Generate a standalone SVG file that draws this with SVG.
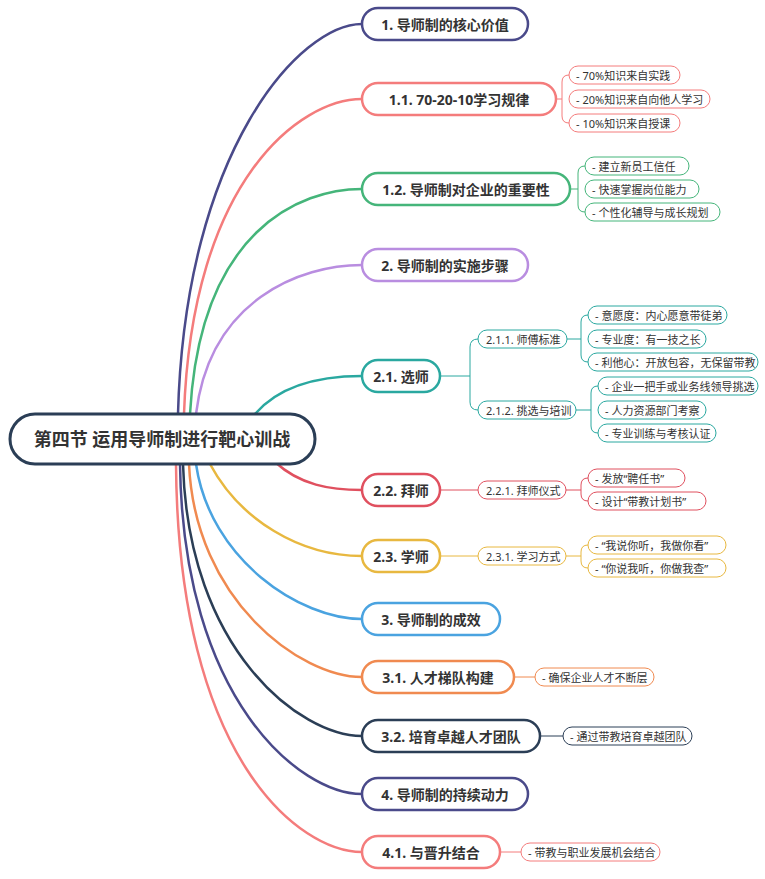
<svg xmlns="http://www.w3.org/2000/svg" width="765" height="879" viewBox="0 0 765 879">
<style>
text{font-family:"Noto Sans","Noto Sans CJK SC",sans-serif;fill:#333;dominant-baseline:central}
.m{font-size:14px;font-weight:bold}
.s{font-size:11px}
.l{font-size:11px}
rect{fill:#fff}
.mr{stroke-width:2.5}
.sr{stroke-width:1}
path{fill:none}
</style>
<rect x="0" y="0" width="765" height="879" fill="#fff"/>
<g id="connectors" stroke-width="2.5">
<path d="M178,414 C185,150 300,24 362,24" stroke="#4a4a8a"/>
<path d="M184,414 C192,180 300,99 362,99" stroke="#f47c7c"/>
<path d="M190,414 C200,230 300,189 362,189" stroke="#45b57a"/>
<path d="M196,414 C210,300 300,265 362,265" stroke="#b98de0"/>
<path d="M255,414 C280,385 320,376 362,376" stroke="#2aa8a0"/>
<path d="M275,462 C300,485 330,490 362,490" stroke="#e0505f"/>
<path d="M210,464 C240,520 300,556 362,556" stroke="#e8b840"/>
<path d="M196,464 C210,560 300,619 362,619" stroke="#4aa3e0"/>
<path d="M189,464 C195,600 300,677 362,677" stroke="#f08a50"/>
<path d="M183,464 C188,650 300,736 362,736" stroke="#2b3e56"/>
<path d="M180,464 C183,700 300,794 362,794" stroke="#4a4a8a"/>
<path d="M176,464 C178,760 300,852 362,852" stroke="#f47c7c"/>
<g stroke-width="1">
<path d="M556,99 H562 M569,75 Q562,75 562,82 V116 Q562,123 569,123" stroke="#f47c7c"/>
<path d="M570,189 H578 M585,166 Q578,166 578,173 V205 Q578,212 585,212" stroke="#45b57a"/>
<path d="M440,376 H470 M478,339 Q470,339 470,347 V402 Q470,410 478,410" stroke="#2aa8a0"/>
<path d="M567,339 H581 M588,315 Q581,315 581,322 V355 Q581,362 588,362" stroke="#2aa8a0"/>
<path d="M576,410 H591 M598,386 Q591,386 591,393 V426 Q591,433 598,433" stroke="#2aa8a0"/>
<path d="M440,490 H478 M566,490 H581 M588,478 Q581,478 581,485 V494 Q581,501 588,501" stroke="#e0505f"/>
<path d="M440,556 H478 M566,556 H581 M588,545 Q581,545 581,552 V561 Q581,568 588,568" stroke="#e8b840"/>
<path d="M514,677 H535" stroke="#f08a50"/>
<path d="M540,736 H563" stroke="#2b3e56"/>
<path d="M500,852 H521" stroke="#f47c7c"/>
</g>
</g>
<g id="root"><rect x="10" y="414" width="305" height="50" rx="25" stroke="#2b3e56" stroke-width="3"/><text x="162" y="439" text-anchor="middle" style="font-size:18px;font-weight:bold">第四节 运用导师制进行靶心训战</text></g>
<g id="n1"><rect class="mr" x="362" y="8" width="166" height="32" rx="16" stroke="#4a4a8a"/><text class="m" x="445" y="24" text-anchor="middle">1. 导师制的核心价值</text></g>
<g id="n11"><rect class="mr" x="362" y="83" width="194" height="32" rx="16" stroke="#f47c7c"/><text class="m" x="459" y="99" text-anchor="middle">1.1. 70-20-10学习规律</text></g>
<g id="n12"><rect class="mr" x="362" y="173" width="208" height="32" rx="16" stroke="#45b57a"/><text class="m" x="466" y="189" text-anchor="middle">1.2. 导师制对企业的重要性</text></g>
<g id="n2"><rect class="mr" x="362" y="249" width="166" height="32" rx="16" stroke="#b98de0"/><text class="m" x="445" y="265" text-anchor="middle">2. 导师制的实施步骤</text></g>
<g id="n21"><rect class="mr" x="362" y="360" width="78" height="32" rx="16" stroke="#2aa8a0"/><text class="m" x="401" y="376" text-anchor="middle">2.1. 选师</text></g>
<g id="n22"><rect class="mr" x="362" y="474" width="78" height="32" rx="16" stroke="#e0505f"/><text class="m" x="401" y="490" text-anchor="middle">2.2. 拜师</text></g>
<g id="n23"><rect class="mr" x="362" y="540" width="78" height="32" rx="16" stroke="#e8b840"/><text class="m" x="401" y="556" text-anchor="middle">2.3. 学师</text></g>
<g id="n3"><rect class="mr" x="362" y="603" width="138" height="32" rx="16" stroke="#4aa3e0"/><text class="m" x="431" y="619" text-anchor="middle">3. 导师制的成效</text></g>
<g id="n31"><rect class="mr" x="362" y="661" width="152" height="32" rx="16" stroke="#f08a50"/><text class="m" x="438" y="677" text-anchor="middle">3.1. 人才梯队构建</text></g>
<g id="n32"><rect class="mr" x="362" y="720" width="178" height="32" rx="16" stroke="#2b3e56"/><text class="m" x="451" y="736" text-anchor="middle">3.2. 培育卓越人才团队</text></g>
<g id="n4"><rect class="mr" x="362" y="778" width="166" height="32" rx="16" stroke="#4a4a8a"/><text class="m" x="445" y="794" text-anchor="middle">4. 导师制的持续动力</text></g>
<g id="n41"><rect class="mr" x="362" y="836" width="138" height="32" rx="16" stroke="#f47c7c"/><text class="m" x="431" y="852" text-anchor="middle">4.1. 与晋升结合</text></g>
<g id="s211"><rect class="sr" x="478" y="330" width="89" height="18" rx="9" stroke="#2aa8a0"/><text class="s" x="486" y="339">2.1.1. 师傅标准</text></g>
<g id="s212"><rect class="sr" x="478" y="401" width="98" height="18" rx="9" stroke="#2aa8a0"/><text class="s" x="486" y="410">2.1.2. 挑选与培训</text></g>
<g id="s221"><rect class="sr" x="478" y="481" width="88" height="18" rx="9" stroke="#e0505f"/><text class="s" x="486" y="490">2.2.1. 拜师仪式</text></g>
<g id="s231"><rect class="sr" x="478" y="547" width="88" height="18" rx="9" stroke="#e8b840"/><text class="s" x="486" y="556">2.3.1. 学习方式</text></g>
<g id="l1"><rect class="sr" x="569" y="66" width="111" height="18" rx="9" stroke="#f47c7c"/><text class="l" x="576" y="75">- 70%知识来自实践</text></g>
<g id="l2"><rect class="sr" x="569" y="90" width="141" height="18" rx="9" stroke="#f47c7c"/><text class="l" x="576" y="99">- 20%知识来自向他人学习</text></g>
<g id="l3"><rect class="sr" x="569" y="114" width="111" height="18" rx="9" stroke="#f47c7c"/><text class="l" x="576" y="123">- 10%知识来自授课</text></g>
<g id="l4"><rect class="sr" x="585" y="157" width="104" height="18" rx="9" stroke="#45b57a"/><text class="l" x="592" y="166">- 建立新员工信任</text></g>
<g id="l5"><rect class="sr" x="585" y="180" width="114" height="18" rx="9" stroke="#45b57a"/><text class="l" x="592" y="189">- 快速掌握岗位能力</text></g>
<g id="l6"><rect class="sr" x="585" y="203" width="135" height="18" rx="9" stroke="#45b57a"/><text class="l" x="592" y="212">- 个性化辅导与成长规划</text></g>
<g id="l7"><rect class="sr" x="588" y="306" width="139" height="18" rx="9" stroke="#2aa8a0"/><text class="l" x="595" y="315">- 意愿度：内心愿意带徒弟</text></g>
<g id="l8"><rect class="sr" x="588" y="330" width="118" height="18" rx="9" stroke="#2aa8a0"/><text class="l" x="595" y="339">- 专业度：有一技之长</text></g>
<g id="l9"><rect class="sr" x="588" y="353" width="170" height="18" rx="9" stroke="#2aa8a0"/><text class="l" x="595" y="362">- 利他心：开放包容，无保留带教</text></g>
<g id="l10"><rect class="sr" x="598" y="377" width="160" height="18" rx="9" stroke="#2aa8a0"/><text class="l" x="605" y="386">- 企业一把手或业务线领导挑选</text></g>
<g id="l11"><rect class="sr" x="598" y="401" width="108" height="18" rx="9" stroke="#2aa8a0"/><text class="l" x="605" y="410">- 人力资源部门考察</text></g>
<g id="l12"><rect class="sr" x="598" y="424" width="118" height="18" rx="9" stroke="#2aa8a0"/><text class="l" x="605" y="433">- 专业训练与考核认证</text></g>
<g id="l13"><rect class="sr" x="588" y="469" width="97" height="18" rx="9" stroke="#e0505f"/><text class="l" x="595" y="478">- 发放“聘任书”</text></g>
<g id="l14"><rect class="sr" x="588" y="492" width="118" height="18" rx="9" stroke="#e0505f"/><text class="l" x="595" y="501">- 设计“带教计划书”</text></g>
<g id="l15"><rect class="sr" x="588" y="536" width="138" height="18" rx="9" stroke="#e8b840"/><text class="l" x="595" y="545">- “我说你听，我做你看”</text></g>
<g id="l16"><rect class="sr" x="588" y="559" width="138" height="18" rx="9" stroke="#e8b840"/><text class="l" x="595" y="568">- “你说我听，你做我查”</text></g>
<g id="l17"><rect class="sr" x="535" y="668" width="119" height="18" rx="9" stroke="#f08a50"/><text class="l" x="542" y="677">- 确保企业人才不断层</text></g>
<g id="l18"><rect class="sr" x="563" y="727" width="129" height="18" rx="9" stroke="#2b3e56"/><text class="l" x="570" y="736">- 通过带教培育卓越团队</text></g>
<g id="l19"><rect class="sr" x="521" y="843" width="139" height="18" rx="9" stroke="#f47c7c"/><text class="l" x="528" y="852">- 带教与职业发展机会结合</text></g>
</svg>
